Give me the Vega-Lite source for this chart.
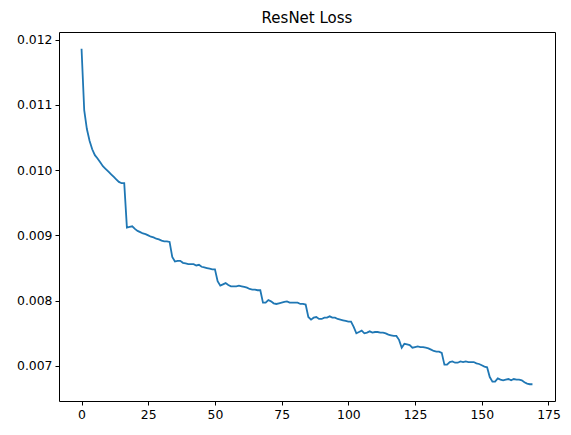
{
  "$schema": "https://vega.github.io/schema/vega-lite/v6.json",
  "width": 496,
  "height": 369,
  "autosize": "none",
  "padding": {"left": 59, "top": 32, "right": 16, "bottom": 34},
  "background": "white",
  "config": {
    "font": "DejaVu Sans",
    "view": {"stroke": "black", "strokeWidth": 1},
    "axis": {
      "grid": false,
      "domain": false,
      "ticks": true,
      "tickColor": "black",
      "tickSize": 4,
      "tickWidth": 1,
      "labelColor": "black",
      "labelFontSize": 12.4,
      "labelPadding": 3,
      "title": null
    }
  },
  "title": {"text": "ResNet Loss", "fontSize": 15, "fontWeight": "normal", "color": "black", "offset": 6},
  "data": {
    "values": [
      {"epoch": 0, "loss": 0.01186}, {"epoch": 1, "loss": 0.01092}, {"epoch": 2, "loss": 0.01063},
      {"epoch": 3, "loss": 0.01045}, {"epoch": 4, "loss": 0.01032}, {"epoch": 5, "loss": 0.01023},
      {"epoch": 6, "loss": 0.01018}, {"epoch": 7, "loss": 0.01012}, {"epoch": 8, "loss": 0.01006},
      {"epoch": 9, "loss": 0.01002}, {"epoch": 10, "loss": 0.00998}, {"epoch": 11, "loss": 0.00994},
      {"epoch": 12, "loss": 0.0099}, {"epoch": 13, "loss": 0.00986}, {"epoch": 14, "loss": 0.00982},
      {"epoch": 15, "loss": 0.0098}, {"epoch": 16, "loss": 0.0098}, {"epoch": 17, "loss": 0.00912},
      {"epoch": 18, "loss": 0.00913}, {"epoch": 19, "loss": 0.00914}, {"epoch": 20, "loss": 0.0091},
      {"epoch": 21, "loss": 0.00907}, {"epoch": 22, "loss": 0.00905}, {"epoch": 23, "loss": 0.00903},
      {"epoch": 24, "loss": 0.00902}, {"epoch": 25, "loss": 0.009}, {"epoch": 26, "loss": 0.00898},
      {"epoch": 27, "loss": 0.00897}, {"epoch": 28, "loss": 0.00895}, {"epoch": 29, "loss": 0.00894},
      {"epoch": 30, "loss": 0.00892}, {"epoch": 31, "loss": 0.00891}, {"epoch": 32, "loss": 0.00891},
      {"epoch": 33, "loss": 0.0089}, {"epoch": 34, "loss": 0.00867}, {"epoch": 35, "loss": 0.0086},
      {"epoch": 36, "loss": 0.00861}, {"epoch": 37, "loss": 0.00861}, {"epoch": 38, "loss": 0.00858},
      {"epoch": 39, "loss": 0.00857}, {"epoch": 40, "loss": 0.00856}, {"epoch": 41, "loss": 0.00856},
      {"epoch": 42, "loss": 0.00856}, {"epoch": 43, "loss": 0.00854}, {"epoch": 44, "loss": 0.00855},
      {"epoch": 45, "loss": 0.00852}, {"epoch": 46, "loss": 0.00851}, {"epoch": 47, "loss": 0.0085},
      {"epoch": 48, "loss": 0.00849}, {"epoch": 49, "loss": 0.00848}, {"epoch": 50, "loss": 0.00848},
      {"epoch": 51, "loss": 0.0083}, {"epoch": 52, "loss": 0.00823}, {"epoch": 53, "loss": 0.00825},
      {"epoch": 54, "loss": 0.00827}, {"epoch": 55, "loss": 0.00824}, {"epoch": 56, "loss": 0.00822},
      {"epoch": 57, "loss": 0.00822}, {"epoch": 58, "loss": 0.00822}, {"epoch": 59, "loss": 0.00823},
      {"epoch": 60, "loss": 0.00822}, {"epoch": 61, "loss": 0.00821}, {"epoch": 62, "loss": 0.0082},
      {"epoch": 63, "loss": 0.00818}, {"epoch": 64, "loss": 0.00817}, {"epoch": 65, "loss": 0.00817},
      {"epoch": 66, "loss": 0.00816}, {"epoch": 67, "loss": 0.00816}, {"epoch": 68, "loss": 0.00797},
      {"epoch": 69, "loss": 0.00797}, {"epoch": 70, "loss": 0.00801}, {"epoch": 71, "loss": 0.00799},
      {"epoch": 72, "loss": 0.00796}, {"epoch": 73, "loss": 0.00795}, {"epoch": 74, "loss": 0.00796},
      {"epoch": 75, "loss": 0.00797}, {"epoch": 76, "loss": 0.00798}, {"epoch": 77, "loss": 0.00799},
      {"epoch": 78, "loss": 0.00797}, {"epoch": 79, "loss": 0.00797}, {"epoch": 80, "loss": 0.00797},
      {"epoch": 81, "loss": 0.00797}, {"epoch": 82, "loss": 0.00795}, {"epoch": 83, "loss": 0.00795},
      {"epoch": 84, "loss": 0.00794}, {"epoch": 85, "loss": 0.00775}, {"epoch": 86, "loss": 0.00771},
      {"epoch": 87, "loss": 0.00774}, {"epoch": 88, "loss": 0.00775}, {"epoch": 89, "loss": 0.00772},
      {"epoch": 90, "loss": 0.00772}, {"epoch": 91, "loss": 0.00774}, {"epoch": 92, "loss": 0.00774},
      {"epoch": 93, "loss": 0.00776}, {"epoch": 94, "loss": 0.00774}, {"epoch": 95, "loss": 0.00774},
      {"epoch": 96, "loss": 0.00772}, {"epoch": 97, "loss": 0.00771}, {"epoch": 98, "loss": 0.0077},
      {"epoch": 99, "loss": 0.00769}, {"epoch": 100, "loss": 0.00768}, {"epoch": 101, "loss": 0.00768},
      {"epoch": 102, "loss": 0.0076}, {"epoch": 103, "loss": 0.0075}, {"epoch": 104, "loss": 0.00752},
      {"epoch": 105, "loss": 0.00754}, {"epoch": 106, "loss": 0.0075}, {"epoch": 107, "loss": 0.00751},
      {"epoch": 108, "loss": 0.00753}, {"epoch": 109, "loss": 0.00751}, {"epoch": 110, "loss": 0.00752},
      {"epoch": 111, "loss": 0.00752}, {"epoch": 112, "loss": 0.00751}, {"epoch": 113, "loss": 0.00751},
      {"epoch": 114, "loss": 0.0075}, {"epoch": 115, "loss": 0.00748}, {"epoch": 116, "loss": 0.00747},
      {"epoch": 117, "loss": 0.00746}, {"epoch": 118, "loss": 0.00746}, {"epoch": 119, "loss": 0.0074},
      {"epoch": 120, "loss": 0.00728}, {"epoch": 121, "loss": 0.00734}, {"epoch": 122, "loss": 0.00733},
      {"epoch": 123, "loss": 0.00732}, {"epoch": 124, "loss": 0.00728}, {"epoch": 125, "loss": 0.00729},
      {"epoch": 126, "loss": 0.0073}, {"epoch": 127, "loss": 0.00729}, {"epoch": 128, "loss": 0.00729},
      {"epoch": 129, "loss": 0.00728}, {"epoch": 130, "loss": 0.00727}, {"epoch": 131, "loss": 0.00725},
      {"epoch": 132, "loss": 0.00723}, {"epoch": 133, "loss": 0.00722}, {"epoch": 134, "loss": 0.00722},
      {"epoch": 135, "loss": 0.0072}, {"epoch": 136, "loss": 0.00702}, {"epoch": 137, "loss": 0.00702},
      {"epoch": 138, "loss": 0.00706}, {"epoch": 139, "loss": 0.00707}, {"epoch": 140, "loss": 0.00705},
      {"epoch": 141, "loss": 0.00705}, {"epoch": 142, "loss": 0.00707}, {"epoch": 143, "loss": 0.00706},
      {"epoch": 144, "loss": 0.00707}, {"epoch": 145, "loss": 0.00706}, {"epoch": 146, "loss": 0.00706},
      {"epoch": 147, "loss": 0.00706}, {"epoch": 148, "loss": 0.00704}, {"epoch": 149, "loss": 0.00703},
      {"epoch": 150, "loss": 0.00701}, {"epoch": 151, "loss": 0.00699}, {"epoch": 152, "loss": 0.00698},
      {"epoch": 153, "loss": 0.00683}, {"epoch": 154, "loss": 0.00676}, {"epoch": 155, "loss": 0.00676},
      {"epoch": 156, "loss": 0.00681}, {"epoch": 157, "loss": 0.00679}, {"epoch": 158, "loss": 0.00678},
      {"epoch": 159, "loss": 0.00679}, {"epoch": 160, "loss": 0.0068}, {"epoch": 161, "loss": 0.00678},
      {"epoch": 162, "loss": 0.0068}, {"epoch": 163, "loss": 0.00679}, {"epoch": 164, "loss": 0.00679},
      {"epoch": 165, "loss": 0.00678}, {"epoch": 166, "loss": 0.00675}, {"epoch": 167, "loss": 0.00673},
      {"epoch": 168, "loss": 0.00672}, {"epoch": 169, "loss": 0.00672}
    ]
  },
  "mark": {"type": "line", "color": "#1f77b4", "strokeWidth": 1.8, "clip": true},
  "encoding": {
    "x": {
      "field": "epoch",
      "type": "quantitative",
      "scale": {"domain": [-8.45, 177.45], "nice": false, "zero": false},
      "axis": {"values": [0, 25, 50, 75, 100, 125, 150, 175]}
    },
    "y": {
      "field": "loss",
      "type": "quantitative",
      "scale": {"domain": [0.006463, 0.012117], "nice": false, "zero": false},
      "axis": {"values": [0.007, 0.008, 0.009, 0.01, 0.011, 0.012], "format": ".3f"}
    }
  }
}
